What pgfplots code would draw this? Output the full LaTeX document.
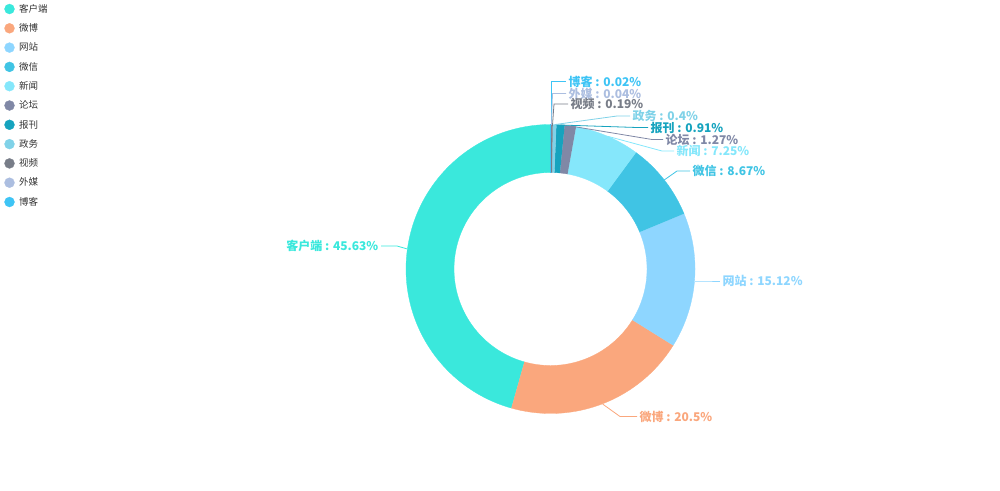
\documentclass[border=0pt]{standalone}
\usepackage{pgfplots}
\pgfplotsset{compat=1.18}
\usepackage{pgfplotstable}
\usepackage{fontspec}
\setmainfont{Noto Sans CJK SC}

\definecolor{c0}{RGB}{58,232,220}
\definecolor{c1}{RGB}{250,167,125}
\definecolor{c2}{RGB}{142,214,255}
\definecolor{c3}{RGB}{64,196,228}
\definecolor{c4}{RGB}{133,231,251}
\definecolor{c5}{RGB}{128,136,166}
\definecolor{c6}{RGB}{22,163,190}
\definecolor{c7}{RGB}{128,210,232}
\definecolor{c8}{RGB}{120,125,136}
\definecolor{c9}{RGB}{172,190,224}
\definecolor{c10}{RGB}{62,196,245}
\definecolor{legtext}{RGB}{51,51,51}

\pgfplotstableread{
name value
客户端 45.63
微博 20.5
网站 15.12
微信 8.67
新闻 7.25
论坛 1.27
报刊 0.91
政务 0.4
视频 0.19
外媒 0.04
博客 0.02
}\datatable

\begin{document}
\begin{tikzpicture}
\begin{axis}[
  x=1pt, y=1pt,
  xmin=0, xmax=1000, ymin=0, ymax=490,
  y dir=reverse,
  hide axis, clip=false,
  legend cell align=left,
  legend image code/.code={%
    \path[draw=none, fill=none] (0pt,-10.3pt) rectangle (0pt,9pt);
    \fill (9.5pt,0pt) circle (5pt);},
  legend style={at={(axis cs:0,0)}, anchor=north west, draw=none, fill=none,
    inner sep=0pt, outer sep=0pt, row sep=0pt,
    font=\fontsize{9.5}{11}\selectfont, text=legtext,
    nodes={inner sep=0pt},
    /tikz/every odd column/.append style={column sep=4.5pt}},
]
\pgfplotstablegetrowsof{\datatable}
\pgfmathtruncatemacro\N{\pgfplotsretval-1}
\gdef\cum{0}
\pgfplotsforeachungrouped \i in {0,...,\N}{%
  \pgfplotstablegetelem{\i}{value}\of\datatable
  \let\val\pgfplotsretval
  \pgfmathsetmacro\va{90+\cum*3.6}
  \pgfmathsetmacro\vb{90+(\cum+\val)*3.6}
  \pgfmathsetmacro\newcum{\cum+\val}
  \global\let\cum\newcum
  \pgfplotstablegetelem{\i}{name}\of\datatable
  \let\nm\pgfplotsretval
  \edef\temp{%
    \noexpand\addplot[fill=c\i, draw=c\i, line width=0.3pt, domain=0:2, samples=201, variable=\noexpand\t]
    ({550.5+((\noexpand\t<1.005)?144.5:96.5)*cos((\noexpand\t<1.005)?(\va+(\vb-\va)*\noexpand\t):(\vb+(\va-\vb)*(\noexpand\t-1.01)/0.99))},
     {269-((\noexpand\t<1.005)?144.5:96.5)*sin((\noexpand\t<1.005)?(\va+(\vb-\va)*\noexpand\t):(\vb+(\va-\vb)*(\noexpand\t-1.01)/0.99))});
    \noexpand\addlegendentry{\nm}
  }%
  \temp
}

% leader lines and labels
\tikzset{lab/.style={font=\fontsize{12}{14}\selectfont\bfseries, inner sep=0pt}}
\draw[c10, line width=0.8pt] (axis cs:551,125) -- (axis cs:551,81.5) -- (axis cs:566,81.5);
\node[lab, text=c10, anchor=west] at (axis cs:568.5,81.5) {博客 : 0.02\%};
\draw[c9, line width=0.8pt] (axis cs:551.5,125) -- (axis cs:552.5,93.5) -- (axis cs:566,93.5);
\node[lab, text=c9, anchor=west] at (axis cs:568.5,93.5) {外媒 : 0.04\%};
\draw[c8, line width=0.8pt] (axis cs:552.5,125) -- (axis cs:554,104) -- (axis cs:568,104);
\node[lab, text=c8, anchor=west] at (axis cs:570.5,104) {视频 : 0.19\%};
\draw[c7, line width=0.8pt] (axis cs:554.6,124.6) -- (axis cs:617,116) -- (axis cs:630,116);
\node[lab, text=c7, anchor=west] at (axis cs:632.5,116) {政务 : 0.4\%};
\draw[c6, line width=0.8pt] (axis cs:560.5,125) -- (axis cs:637,127.5) -- (axis cs:648,127.5);
\node[lab, text=c6, anchor=west] at (axis cs:650.5,127.5) {报刊 : 0.91\%};
\draw[c5, line width=0.8pt] (axis cs:570.4,126) -- (axis cs:652,139.5) -- (axis cs:663,139.5);
\node[lab, text=c5, anchor=west] at (axis cs:665.5,139.5) {论坛 : 1.27\%};
\draw[c4, line width=0.8pt] (axis cs:607.4,136.2) -- (axis cs:662,151) -- (axis cs:674,151);
\node[lab, text=c4, anchor=west] at (axis cs:676.5,151) {新闻 : 7.25\%};
\draw[c3, line width=0.8pt] (axis cs:664.3,179.9) -- (axis cs:677,171) -- (axis cs:690,171);
\node[lab, text=c3, anchor=west] at (axis cs:692.5,171) {微信 : 8.67\%};
\draw[c2, line width=0.8pt] (axis cs:694.5,281) -- (axis cs:705,281) -- (axis cs:720,281);
\node[lab, text=c2, anchor=west] at (axis cs:722.5,281) {网站 : 15.12\%};
\draw[c1, line width=0.8pt] (axis cs:602.7,404.1) -- (axis cs:620,416.5) -- (axis cs:637,416.5);
\node[lab, text=c1, anchor=west] at (axis cs:639.5,416.5) {微博 : 20.5\%};
\draw[c0, line width=0.8pt] (axis cs:407.4,249) -- (axis cs:397,246) -- (axis cs:381,246);
\node[lab, text=c0, anchor=east] at (axis cs:378.5,246) {客户端 : 45.63\%};
\end{axis}
\pgfresetboundingbox
\useasboundingbox (current axis.south west) rectangle (current axis.north east);
\end{tikzpicture}
\end{document}
